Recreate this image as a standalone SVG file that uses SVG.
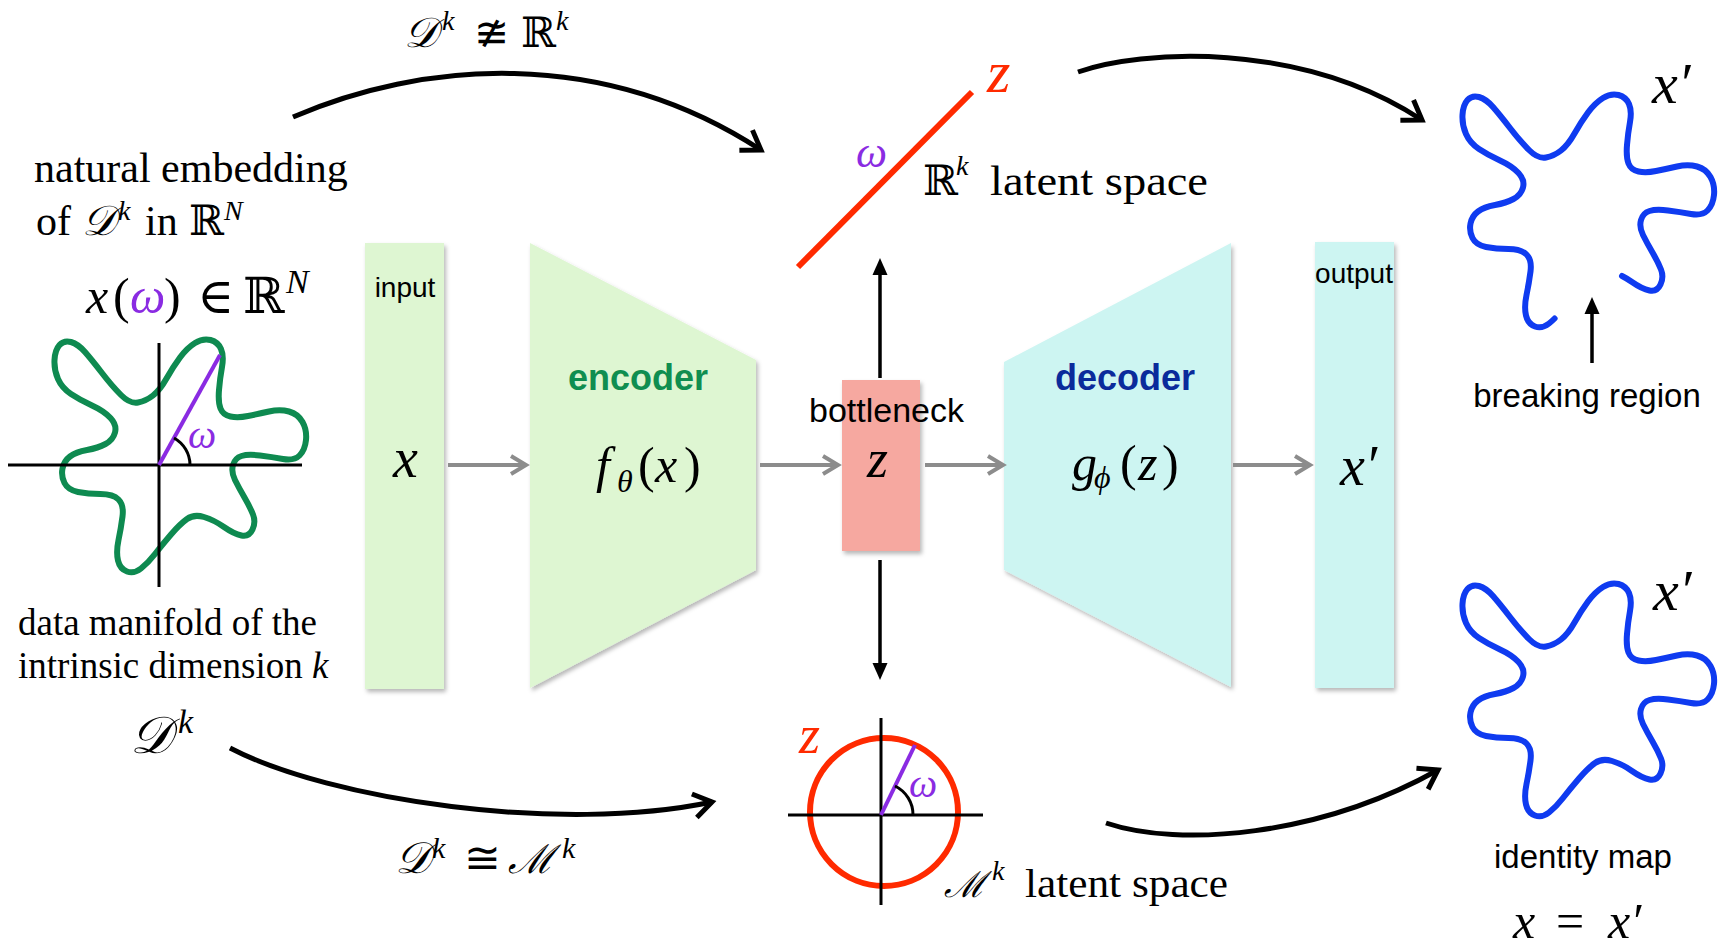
<svg xmlns="http://www.w3.org/2000/svg" width="1725" height="950" viewBox="0 0 1725 950">
<defs>
<style>
.serif{font-family:"Liberation Serif","DejaVu Serif",serif;fill:#000}
.it{font-style:italic}
.sans{font-family:"Liberation Sans",Arial,sans-serif;fill:#000}
.curve{fill:none;stroke:#000;stroke-width:5;marker-end:url(#chev)}
.gray{fill:none;stroke:#8c8c8c;stroke-width:4;marker-end:url(#gchev)}
.vline{fill:none;stroke:#000;stroke-width:3.5;marker-end:url(#tri)}
.axis{fill:none;stroke:#000;stroke-width:3}
.purple{fill:#8a2be2}
.pline{stroke:#8a2be2;stroke-width:4;fill:none}
.red{fill:#ff2a00}
.shape{fill:none;stroke-width:6;stroke-linecap:round;stroke-linejoin:round}
.green-box{fill:#def6d2;filter:url(#sh)}
.cyan-box{fill:#cdf5f2;filter:url(#sh)}
</style>
<filter id="sh" x="-10%" y="-10%" width="130%" height="130%">
<feDropShadow dx="2" dy="3" stdDeviation="2" flood-color="#000" flood-opacity="0.28"/>
</filter>
<marker id="chev" markerUnits="userSpaceOnUse" orient="auto" markerWidth="40" markerHeight="40" viewBox="-30 -20 40 40" refX="0" refY="0" overflow="visible">
<path d="M -18 -12 L 0 0 L -18 12" fill="none" stroke="#000" stroke-width="5"/>
</marker>
<marker id="gchev" markerUnits="userSpaceOnUse" orient="auto" markerWidth="30" markerHeight="30" viewBox="-20 -15 30 30" refX="0" refY="0" overflow="visible">
<path d="M -15 -9 L 0 0 L -15 9" fill="none" stroke="#8c8c8c" stroke-width="4"/>
</marker>
<marker id="tri" markerUnits="userSpaceOnUse" orient="auto" markerWidth="30" markerHeight="30" viewBox="-5 -15 30 30" refX="0" refY="0" overflow="visible">
<path d="M 17 0 L 0 -7.5 L 0 7.5 Z" fill="#000"/>
</marker>
<path id="blob" d="M 166.5 378.5 Q 160 390 153 395.5 Q 146 401 138 402.5 Q 130 404 121 395 Q 112 386 102 373 Q 92 360 85 352 Q 78 344 71 342 Q 64 340 59.5 345 Q 55 350 54.5 360 Q 54 370 58 379 Q 62 388 71 394 Q 80 400 92 405.5 Q 104 411 110.5 418 Q 117 425 115 432.5 Q 113 440 105.5 444 Q 98 448 87 450 Q 76 452 70 456.5 Q 64 461 62.5 468.5 Q 61 476 64.5 483 Q 68 490 78 492 Q 88 494 100.5 494 Q 113 494 118.5 499.5 Q 124 505 122.5 516.5 Q 121 528 118.5 540 Q 116 552 118 560.5 Q 120 569 127 571.5 Q 134 574 141 568.5 Q 148 563 155 554 Q 162 545 171 534.5 Q 180 524 187 519 Q 194 514 204 517 Q 214 520 224 527 Q 234 534 241.5 535.5 Q 249 537 252.5 529.5 Q 256 522 253 514.5 Q 250 507 244.5 497.5 Q 239 488 235 480 Q 231 472 233 465 Q 235 458 241.5 456 Q 248 454 260 455.5 Q 272 457 283 459 Q 294 461 299.5 455.5 Q 305 450 306 440 Q 307 430 302.5 422 Q 298 414 289 411.5 Q 280 409 269 411.5 Q 258 414 248 416 Q 238 418 230.5 416.5 Q 223 415 220.5 408.5 Q 218 402 219 390 Q 220 378 222 367 Q 224 356 221 349 Q 218 342 210.5 340 Q 203 338 195 343 Q 187 348 180 357.5 Q 173 367 166.5 378.5 Z"/>
<path id="blobBroken" d="M 214 521 Q 219 523.5 224 527 Q 234 534 241.5 535.5 Q 249 537 252.5 529.5 Q 256 522 253 514.5 Q 250 507 244.5 497.5 Q 239 488 235 480 Q 231 472 233 465 Q 235 458 241.5 456 Q 248 454 260 455.5 Q 272 457 283 459 Q 294 461 299.5 455.5 Q 305 450 306 440 Q 307 430 302.5 422 Q 298 414 289 411.5 Q 280 409 269 411.5 Q 258 414 248 416 Q 238 418 230.5 416.5 Q 223 415 220.5 408.5 Q 218 402 219 390 Q 220 378 222 367 Q 224 356 221 349 Q 218 342 210.5 340 Q 203 338 195 343 Q 187 348 180 357.5 Q 173 367 166.5 378.5 Q 160 390 153 395.5 Q 146 401 138 402.5 Q 130 404 121 395 Q 112 386 102 373 Q 92 360 85 352 Q 78 344 71 342 Q 64 340 59.5 345 Q 55 350 54.5 360 Q 54 370 58 379 Q 62 388 71 394 Q 80 400 92 405.5 Q 104 411 110.5 418 Q 117 425 115 432.5 Q 113 440 105.5 444 Q 98 448 87 450 Q 76 452 70 456.5 Q 64 461 62.5 468.5 Q 61 476 64.5 483 Q 68 490 78 492 Q 88 494 100.5 494 Q 113 494 118.5 499.5 Q 124 505 122.5 516.5 Q 121 528 118.5 540 Q 116 552 118 560.5 Q 120 569 127 571.5 Q 134 574 141 568.5 Q 143.8 566.3 146.6 563.5"/>
</defs>
<rect width="1725" height="950" fill="#fff"/>

<!-- data manifold (left) -->
<g id="data-manifold">
<text class="serif" font-size="42"><tspan x="34" y="182">natural embedding</tspan></text>
<text class="serif" font-size="42"><tspan x="36" y="235">of</tspan><tspan x="82" y="235" class="it">𝒟</tspan><tspan x="118" y="220" font-size="28" class="it">k</tspan><tspan x="145" y="235">in</tspan><tspan x="189" y="235">ℝ</tspan><tspan x="224" y="220" font-size="28" class="it">N</tspan></text>
<text class="serif" font-size="50"><tspan x="86" y="313" class="it">x</tspan><tspan x="113" y="313">(</tspan><tspan x="130" y="313" class="it purple">ω</tspan><tspan x="164" y="313">)</tspan><tspan x="197" y="313">∈</tspan><tspan x="243" y="313">ℝ</tspan><tspan x="286" y="293" font-size="34" class="it">N</tspan></text>
<use href="#blob" class="shape" stroke="#0e8a50"/>
<line class="axis" x1="8" y1="465" x2="302" y2="465"/>
<line class="axis" x1="159" y1="343" x2="159" y2="587"/>
<line class="pline" x1="159" y1="465" x2="220" y2="355"/>
<path class="axis" d="M 190 465 A 31 31 0 0 0 174 438"/>
<text class="serif it purple" font-size="40" x="188" y="448">ω</text>
<text class="serif" font-size="37" x="18" y="635">data manifold of the</text>
<text class="serif" font-size="37" x="18" y="678">intrinsic dimension <tspan class="it">k</tspan></text>
<text class="serif" font-size="52"><tspan x="130" y="753" class="it">𝒟</tspan><tspan x="178" y="733" font-size="34" class="it">k</tspan></text>
</g>

<!-- mapping labels -->
<g id="label-top">
<text class="serif" font-size="42"><tspan x="404" y="47" class="it">𝒟</tspan><tspan x="442" y="30" font-size="28" class="it">k</tspan><tspan x="474" y="47">≇</tspan><tspan x="521" y="47">ℝ</tspan><tspan x="556" y="30" font-size="28" class="it">k</tspan></text>
</g>
<g id="label-bottom">
<text class="serif" font-size="44"><tspan x="395" y="873" class="it">𝒟</tspan><tspan x="432" y="858" font-size="30" class="it">k</tspan><tspan x="464" y="873">≅</tspan><tspan x="508" y="873" class="it" font-size="40">ℳ</tspan><tspan x="562" y="858" font-size="30" class="it">k</tspan></text>
</g>

<!-- autoencoder -->
<g id="input">
<rect class="green-box" x="365" y="243" width="79" height="446"/>
<text class="sans" font-size="28" x="405" y="297" text-anchor="middle">input</text>
<text class="serif it" font-size="56" x="393" y="477">x</text>
</g>
<g id="encoder">
<path class="green-box" d="M 530 243 L 756 360 L 756 570 L 530 688 Z"/>
<text class="sans" font-size="36" font-weight="bold" x="638" y="390" text-anchor="middle" style="fill:#0f8e50">encoder</text>
<text class="serif" font-size="50"><tspan x="596" y="482" class="it">f</tspan><tspan x="617" y="492" font-size="32" class="it">θ</tspan><tspan x="638" y="482">(</tspan><tspan x="655" y="482" class="it">x</tspan><tspan x="684" y="482">)</tspan></text>
</g>
<g id="bottleneck">
<rect x="842" y="380" width="78" height="171" fill="#f6a8a0" filter="url(#sh)"/>
<text class="sans" font-size="34" x="809" y="422">bottleneck</text>
<text class="serif it" font-size="54" x="867" y="477">z</text>
</g>
<g id="decoder">
<path class="cyan-box" d="M 1004 362 L 1231 243 L 1231 687 L 1004 570 Z"/>
<text class="sans" font-size="36" font-weight="bold" x="1125" y="390" text-anchor="middle" style="fill:#0a2b9b">decoder</text>
<text class="serif" font-size="50"><tspan x="1072" y="480" class="it">g</tspan><tspan x="1094" y="488" font-size="32" class="it">ϕ</tspan><tspan x="1120" y="480">(</tspan><tspan x="1138" y="480" class="it">z</tspan><tspan x="1162" y="480">)</tspan></text>
</g>
<g id="output">
<rect class="cyan-box" x="1315" y="242" width="79" height="446"/>
<text class="sans" font-size="28" x="1354" y="283" text-anchor="middle">output</text>
<text class="serif it" font-size="56" x="1340" y="485">x′</text>
</g>

<!-- latent spaces -->
<g id="latent-R">
<line x1="798" y1="267" x2="972" y2="92" stroke="#ff2a00" stroke-width="6"/>
<text class="serif it red" font-size="60" x="987" y="92">z</text>
<text class="serif it purple" font-size="44" x="856" y="167">ω</text>
<text class="serif" font-size="42" x="923" y="195">ℝ</text>
<text class="serif it" font-size="28" x="956" y="175">k</text>
<text class="serif" font-size="42" x="990" y="195" textLength="218" lengthAdjust="spacingAndGlyphs">latent space</text>
</g>
<g id="latent-M">
<circle cx="884" cy="812" r="74" fill="none" stroke="#ff2a00" stroke-width="6"/>
<line class="axis" x1="788" y1="815" x2="983" y2="815"/>
<line class="axis" x1="881" y1="718" x2="881" y2="905"/>
<line class="pline" x1="881" y1="815" x2="915" y2="745"/>
<path class="axis" d="M 913 815 A 32 32 0 0 0 895 786"/>
<text class="serif it purple" font-size="40" x="909" y="797">ω</text>
<text class="serif it red" font-size="54" x="799" y="753">z</text>
<text class="serif it" font-size="36" x="944" y="897">ℳ</text>
<text class="serif it" font-size="28" x="992" y="880">k</text>
<text class="serif" font-size="41" x="1025" y="897" textLength="203" lengthAdjust="spacingAndGlyphs">latent space</text>
</g>

<!-- reconstructions -->
<g id="recon-broken">
<use href="#blobBroken" class="shape" stroke="#0f3bf0" transform="translate(1408,-245)"/>
<text class="serif it" font-size="58" x="1652" y="103">x′</text>
<text class="sans" font-size="33" x="1587" y="407" text-anchor="middle">breaking region</text>
</g>
<g id="recon-identity">
<use href="#blob" class="shape" stroke="#0f3bf0" transform="translate(1408,244)"/>
<text class="serif it" font-size="58" x="1653" y="610">x′</text>
<text class="sans" font-size="33" x="1583" y="868" text-anchor="middle">identity map</text>
<text class="serif" font-size="50"><tspan x="1513" y="938" class="it">x</tspan><tspan x="1556" y="938">=</tspan><tspan x="1608" y="938" class="it">x′</tspan></text>
</g>

<!-- connectors -->
<g id="connectors">
<path class="curve" d="M 293 117 C 420 62, 600 45, 761 150"/>
<path class="curve" d="M 1078 72 C 1140 50, 1300 40, 1422 120"/>
<path class="curve" d="M 230 748 C 330 800, 560 834, 712 802"/>
<path class="curve" d="M 1106 823 C 1180 848, 1320 836, 1438 770"/>
<path class="gray" d="M 448 465 L 526 465"/>
<path class="gray" d="M 760 465 L 838 465"/>
<path class="gray" d="M 925 465 L 1003 465"/>
<path class="gray" d="M 1233 465 L 1310 465"/>
<path class="vline" d="M 880 378 L 880 275"/>
<path class="vline" d="M 880 560 L 880 663"/>
<path class="vline" d="M 1592 363 L 1592 314"/>
</g>
</svg>
